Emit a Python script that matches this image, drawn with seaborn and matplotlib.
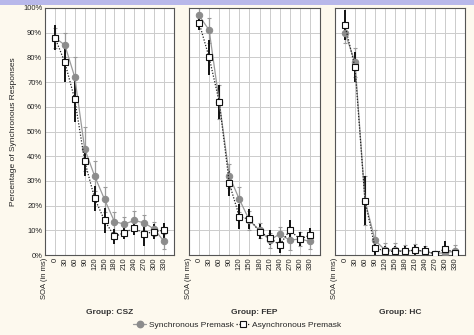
import numpy as np
import pandas as pd
import matplotlib
matplotlib.use("Agg")
import matplotlib.pyplot as plt
from matplotlib.lines import Line2D
from matplotlib.patches import Rectangle
import seaborn as sns

sns.set_style("white")
plt.rcParams['font.family'] = ['Liberation Sans', 'DejaVu Sans']

soa = [0, 30, 60, 90, 120, 150, 180, 210, 240, 270, 300, 330]
groups = ["CSZ", "FEP", "HC"]

sync_csz = [88, 85, 72, 43, 32, 22.5, 13.5, 12.5, 14, 13, 10.5, 5.5]
sync_csz_err = [4, 5, 8, 9, 6, 5, 4, 3, 4, 3, 3, 3]
async_csz = [88, 78, 63, 38, 23, 14, 7.5, 9, 11, 8.5, 9.5, 10]
async_csz_err = [5, 8, 9, 6, 5, 5, 3, 2.5, 3, 5, 3, 3]

sync_fep = [97, 91, 62, 32, 22.5, 14, 10, 6, 8.5, 6, 6.5, 5.5]
sync_fep_err = [3, 5, 7, 5, 5, 4, 3, 3, 3, 4, 3, 3]
async_fep = [94, 80, 62, 29, 15.5, 14.5, 9.5, 7, 4, 10, 6.5, 8]
async_fep_err = [3, 7, 7, 5, 5, 4, 3, 3, 3, 4, 3, 3]

sync_hc = [90, 78, 22, 6, 2, 2, 1.5, 2, 1.5, 0.5, 1, 1.5]
sync_hc_err = [4, 6, 10, 4, 3, 3, 2.5, 2.5, 2, 1, 2, 2.5]
async_hc = [93, 76, 22, 3, 1.5, 1.5, 1.5, 2, 1.5, 0.5, 2.5, 1]
async_hc_err = [6, 6, 10, 3, 2, 2, 2, 2, 2, 1, 3, 2]

data = {
    "CSZ": (sync_csz, sync_csz_err, async_csz, async_csz_err),
    "FEP": (sync_fep, sync_fep_err, async_fep, async_fep_err),
    "HC": (sync_hc, sync_hc_err, async_hc, async_hc_err),
}

W, H = 474, 335
fig = plt.figure(figsize=(W / 100, H / 100), dpi=100)
fig.patch.set_facecolor("#fdf9ee")
fig.patches.append(Rectangle((0, 1 - 5 / H), 1, 5 / H, transform=fig.transFigure,
                             facecolor="#b8b8ea", edgecolor="none", zorder=0))

lefts = [45, 189, 335]
widths = [129, 131, 130]
bottom = 1 - 255 / H
height = (255 - 8) / H

sync_col = "#8c8c8c"
pos = np.arange(len(soa))
xticks = [-1] + list(pos)
xlabels = ["SOA (in ms)"] + [str(s) for s in soa]

for i, g in enumerate(groups):
    ax = fig.add_axes([lefts[i] / W, bottom, widths[i] / W, height])
    ax.set_facecolor("white")
    s, se, a, ae = data[g]
    df = pd.DataFrame({"pos": np.concatenate([pos, pos]),
                       "val": s + a,
                       "cond": ["Synchronous Premask"] * len(pos) + ["Asynchronous Premask"] * len(pos)})
    ax.errorbar(pos, s, yerr=se, fmt="none", ecolor="#9a9a9a", elinewidth=0.9,
                capsize=1.2, capthick=0.8, zorder=2)
    ax.errorbar(pos, a, yerr=ae, fmt="none", ecolor="#111111", elinewidth=1.4,
                capsize=0, zorder=3)
    sns.lineplot(data=df[df.cond == "Synchronous Premask"], x="pos", y="val", ax=ax,
                 color="#9a9a9a", lw=0.9, marker="o", markersize=4.6,
                 markerfacecolor=sync_col, markeredgecolor=sync_col, zorder=4)
    sns.lineplot(data=df[df.cond == "Asynchronous Premask"], x="pos", y="val", ax=ax,
                 color="#222222", lw=0.9, linestyle=(0, (1, 1.3)), marker="s", markersize=4.8,
                 markerfacecolor="white", markeredgecolor="#111111", markeredgewidth=0.8,
                 zorder=5)
    ax.set_xlim(-1, 12)
    ax.set_ylim(0, 100)
    ax.set_xticks(xticks)
    ax.set_xticklabels(xlabels, rotation=90, fontsize=5.5, color="#222222")
    ax.set_yticks(np.arange(0, 101, 10))
    ax.grid(True, color="#cccccc", lw=0.7)
    ax.set_axisbelow(True)
    ax.tick_params(axis="both", length=0, pad=2)
    if i == 0:
        ax.set_yticklabels([f"{v}%" for v in range(0, 101, 10)], fontsize=5.5, color="#222222")
        ax.set_ylabel("Percentage of Synchronous Responses", fontsize=6, color="#222222", labelpad=4)
    else:
        ax.set_yticklabels([])
        ax.set_ylabel("")
    ax.set_xlabel("")
    for sp in ax.spines.values():
        sp.set_color("#555555")
        sp.set_linewidth(0.8)
    if ax.legend_:
        ax.legend_.remove()
    fig.text((lefts[i] + widths[i] / 2) / W, 1 - 312 / H, f"Group: {g}", ha="center", va="center",
             fontsize=6, fontweight="bold", color="#333333")

handles = [
    Line2D([], [], color="#9a9a9a", lw=0.9, marker="o", markersize=4.6,
           markerfacecolor=sync_col, markeredgecolor=sync_col),
    Line2D([], [], color="#222222", lw=0.9, linestyle=(0, (1, 1.3)), marker="s", markersize=4.8,
           markerfacecolor="white", markeredgecolor="#111111", markeredgewidth=0.8),
]
fig.legend(handles, ["Synchronous Premask", "Asynchronous Premask"], loc="center",
           bbox_to_anchor=(237 / W, 1 - 325 / H), ncol=2, frameon=False, fontsize=6,
           handlelength=1.6, columnspacing=0.3, handletextpad=0.3)

fig.savefig("out.png", dpi=100, facecolor=fig.get_facecolor())
